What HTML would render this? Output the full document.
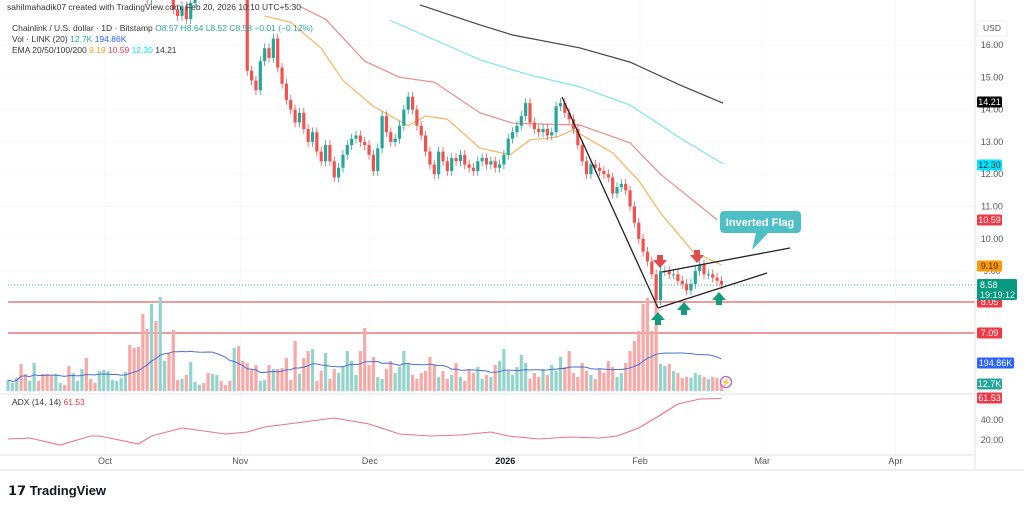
<!DOCTYPE html>
<html><head><meta charset="utf-8"><style>
body{margin:0;background:#fff;width:1024px;height:509px;overflow:hidden;font-family:"Liberation Sans",sans-serif}
svg{display:block}
</style></head><body>
<svg id="c" width="1024" height="509" viewBox="0 0 1024 509">
<defs><clipPath id="pc"><rect x="0" y="0" width="975" height="392"/></clipPath></defs>
<rect x="0" y="0" width="1024" height="509" fill="#fff"/>
<g id="grid"></g>
<line x1="8" y1="302" x2="975" y2="302" stroke="#e06060" stroke-width="1.3"/>
<line x1="8" y1="333" x2="975" y2="333" stroke="#e06060" stroke-width="1.3"/>
<line x1="8" y1="285" x2="975" y2="285" stroke="#26a69a" stroke-width="1" stroke-dasharray="1,2"/>
<g id="vol"></g>
<g id="ema" clip-path="url(#pc)"></g>
<g id="candles" clip-path="url(#pc)"></g>
<g id="adx"></g>
<line x1="0" y1="394" x2="975" y2="394" stroke="#e0e3eb"/>
<line x1="0" y1="455" x2="975" y2="455" stroke="#e0e3eb"/>
<line x1="975" y1="0" x2="975" y2="470" stroke="#e0e3eb"/>
<line x1="0" y1="470" x2="1024" y2="470" stroke="#e0e3eb"/>
<line x1="562" y1="97" x2="658" y2="308" stroke="#222" stroke-width="1.3"/>
<line x1="662" y1="272" x2="790" y2="248" stroke="#222" stroke-width="1.3"/>
<line x1="658" y1="308" x2="767" y2="273" stroke="#222" stroke-width="1.3"/>
<g id="arrows"></g>
<g>
<path d="M724 211 H797 a4 4 0 0 1 4 4 V229 a4 4 0 0 1 -4 4 H768 L752 250 L756 233 H724 a4 4 0 0 1 -4 -4 V215 a4 4 0 0 1 4 -4Z" fill="#4fbfc6"/>
<text x="760" y="226" text-anchor="middle" font-size="11" font-weight="bold" fill="#fff">Inverted Flag</text>
</g>
<circle cx="726" cy="382" r="5.5" fill="#fff" stroke="#c060d0" stroke-width="1.3"/>
<text x="726" y="385" text-anchor="middle" font-size="8" fill="#c060d0">⚡</text>
<g id="axis" font-size="9" fill="#555"></g>
<g id="tags" font-size="9"></g>
<g id="dates" font-size="9" fill="#555"></g>
<rect x="977" y="21" width="30" height="15" fill="#fff" stroke="#eee"/>
<text x="992" y="31" text-anchor="middle" font-size="8.5" fill="#555">USD</text>
<text x="7" y="10" font-size="8.5" fill="#333">sahilmahadik07 created with TradingView.com, Feb 20, 2026 10:10 UTC+5:30</text>
<g font-size="8.5">
<text x="12" y="31" fill="#333">Chainlink / U.S. dollar · 1D · Bitstamp <tspan fill="#26a69a">O8.57 H8.64 L8.52 C8.58 −0.01 (−0.12%)</tspan></text>
<text x="12" y="42" fill="#333">Vol · LINK (20) <tspan fill="#26a69a">12.7K</tspan> <tspan fill="#2962ff">194.86K</tspan></text>
<text x="12" y="53" fill="#333">EMA 20/50/100/200 <tspan fill="#f7a21b">9.19</tspan> <tspan fill="#f23645">10.59</tspan> <tspan fill="#00e5ff">12.30</tspan> 14.21</text>
<text x="12" y="405" fill="#333">ADX (14, 14) <tspan fill="#f23645">61.53</tspan></text>
</g>
<g>
<text x="8" y="495" font-size="13" font-weight="bold" fill="#131722">𝟭𝟳 TradingView</text>
</g>
</svg>
<script>
const closes=[19.5,19.8,20.2,20.0,19.6,19.9,20.5,20.1,19.7,19.4,19.0,19.3,19.6,19.2,18.9,19.5,19.8,20.1,19.7,19.2,19.0,19.3,19.9,20.6,21.0,21.4,21.8,22.3,22.0,21.5,21.0,
18.0,17.4,17.8,17.6,17.9,18.3,17.7,17.1,16.9,17.2,16.8,17.3,17.9,18.4,18.0,17.6,18.2,18.8,18.5,18.1,17.8,18.3,17.9,17.6,
15.2,14.9,14.6,15.5,15.9,15.6,16.2,15.3,14.8,14.3,14.0,13.6,13.9,13.4,13.0,13.3,12.7,12.4,12.9,12.4,
11.9,12.2,12.6,12.9,13.1,13.2,13.0,12.9,12.6,12.1,12.8,13.8,13.3,13.0,13.1,13.5,14.0,14.4,14.0,13.5,
13.2,12.7,12.3,12.0,12.7,12.4,12.1,12.5,12.4,12.6,12.3,12.2,12.1,12.4,12.5,12.3,12.4,12.2,12.3,12.6,
13.1,13.3,13.5,13.8,14.2,13.6,13.4,13.3,13.4,13.2,13.3,14.1,14.2,13.9,13.7,13.4,12.9,12.4,12.0,12.3,
12.2,12.1,12.0,11.9,11.4,11.6,11.7,11.5,11.0,10.5,10.0,9.6,9.3,8.9,8.1,9.0,9.0,8.9,8.9,8.7,
8.6,8.4,8.6,9.0,9.2,8.9,8.9,8.8,8.7,8.58];
const volumes=[11,8,13,27,17,10,28,10,17,17,16,17,8,6,25,18,10,22,33,12,8,20,21,20,11,10,13,19,46,43,44,
77,62,87,70,94,30,38,61,11,12,16,29,9,6,8,18,17,16,10,6,10,43,45,30,28,21,26,10,11,26,
22,22,23,33,11,50,17,33,40,42,10,20,38,12,22,18,25,40,30,16,40,63,26,34,14,12,22,30,18,24,
40,28,16,12,18,20,34,26,14,20,12,16,28,14,10,22,18,24,12,16,14,26,30,42,20,16,24,36,28,12,
18,14,22,16,26,20,34,24,40,18,14,28,20,16,12,22,18,30,24,14,18,28,40,50,60,87,93,60,87,27,
25,27,20,18,13,14,13,18,16,14,12,14,13,11];
const ema20Days=[59,65,72,77,84,92,96,101,108.5,115.4,120,126.2,129.9,139,145,150,157.5,164];
const ema20Vals=[16.9,16.7,15.9,14.9,14.1,13.5,13.8,13.7,12.81,12.6,13.06,13.15,13.37,12.66,11.8,10.8,9.6,9.19];
const ema50Days=[67,73,82,90,98,108.5,116,131.5,143,150,156,163];
const ema50Vals=[17.2,16.8,15.5,15.0,14.85,13.9,13.58,13.52,12.97,12.0,11.35,10.59];
const ema100Days=[87.8,108.5,120,131.5,143,154.5,164.4];
const ema100Vals=[16.77,15.54,15.07,14.70,14.14,13.12,12.32];
const ema200Days=[94.7,108.5,116,131.5,143,154.5,164.4];
const ema200Vals=[17.24,16.62,16.31,15.91,15.47,14.76,14.2];
const adxDays=[0,5,12,19,21,30,33,40,50,55,59,75,83,90,97,104,111,115,122,129,136,140,145,150,154,159,164];
const adxVals=[21,22,15,24,24,16,24,32,26,28,33,42,36,26,24,25,28,24,21,23,22,24,32,45,56,61,61.5];
const priceTicks=[16,15,14,13,12,11,10,9];
const adxTicks=[40,20];
const months=[{l:"Oct",d:22.3},{l:"Nov",d:53.4},{l:"Dec",d:83.2},{l:"2026",d:114.3,b:1},{l:"Feb",d:145.3},{l:"Mar",d:173.4},{l:"Apr",d:204}];
const NS="http://www.w3.org/2000/svg";
const X=i=>8+i*4.35, Y=p=>45+(16-p)*32.3, VY=v=>391-v, AY=a=>420-(a-40);
function mk(t,a,p){const e=document.createElementNS(NS,t);for(const k in a)e.setAttribute(k,a[k]);p.appendChild(e);return e;}
const grid=document.getElementById('grid');
priceTicks.forEach(p=>{const l=mk('line',{x1:0,x2:975,y1:Y(p),y2:Y(p),stroke:'#f6f7f9'},grid);

});
months.forEach(m=>{const l=mk('line',{x1:X(m.d),x2:X(m.d),y1:0,y2:470,stroke:'#f6f7f9'},grid);

});
const vol=document.getElementById('vol');
const opens=closes.map((c,i)=>i?closes[i-1]:c);
volumes.forEach((v,i)=>{const up=closes[i]>=opens[i];
const r=mk('rect',{x:X(i)-1.6,y:VY(v),width:3.2,height:v,fill:up?'#92d3cb':'#f6a9a6'},vol);

});
const ma=volumes.map((v,i)=>{const s=volumes.slice(Math.max(0,i-19),i+1);return s.reduce((a,b)=>a+b,0)/s.length;});
const vm=mk('polyline',{points:ma.map((v,i)=>X(i)+','+VY(v)).join(' '),fill:'none',stroke:'#4a6fd6','stroke-width':1},vol);


const ema=document.getElementById('ema');
[[ema20Days,ema20Vals,'#f5b35c','ema20-line'],[ema50Days,ema50Vals,'#e88a8a','ema50-line'],[ema100Days,ema100Vals,'#7fe3ee','ema100-line'],[ema200Days,ema200Vals,'#444','ema200-line']].forEach(([d,v,c,n])=>{
const l=mk('polyline',{points:d.map((di,k)=>X(di)+','+Y(v[k])).join(' '),fill:'none',stroke:c,'stroke-width':1.2},ema);

});
const cg=document.getElementById('candles');
closes.forEach((c,i)=>{const o=opens[i],up=c>=o,col=up?'#26a69a':'#ef5350';
const hi=Math.max(o,c)+0.15,lo=Math.min(o,c)-0.15;
mk('line',{x1:X(i),x2:X(i),y1:Y(hi),y2:Y(lo),stroke:col,'stroke-width':0.8},cg);
const r=mk('rect',{x:X(i)-1.6,y:Y(Math.max(o,c)),width:3.2,height:Math.max(1,Math.abs(o-c)*32.3),fill:col},cg);

});
const adx=document.getElementById('adx');
const al=mk('polyline',{points:adxDays.map((d,k)=>X(d)+','+AY(adxVals[k])).join(' '),fill:'none',stroke:'#e8738a','stroke-width':1.1},adx);


const ax=document.getElementById('axis');
priceTicks.forEach(p=>{const t=mk('text',{x:992,y:Y(p)+3,'text-anchor':'middle'},ax);t.textContent=p.toFixed(2);

});
adxTicks.forEach(a=>{const t=mk('text',{x:992,y:AY(a)+3,'text-anchor':'middle'},ax);t.textContent=a.toFixed(2);

});
const tg=document.getElementById('tags');
[['14.21',102,'#000','#fff'],['12.30',165,'#00e5ff','#333'],['10.59',220,'#f23645','#fff'],['9.19',266,'#ff9800','#333'],['8.05',302,'#f23645','#fff'],['7.09',333,'#f23645','#fff'],['194.86K',363,'#2962ff','#fff'],['12.7K',384,'#26a69a','#fff'],['61.53',398,'#f23645','#fff']].forEach(([s,y,bg,fg])=>{
const w=s.length>5?37:25;const r=mk('rect',{x:977,y:y-5.5,width:w,height:11,fill:bg,rx:1.5},tg);


const t=mk('text',{x:977+w/2,y:y+3.2,'text-anchor':'middle',fill:fg},tg);t.textContent=s;});
const lr=mk('rect',{x:977,y:279,width:40,height:21,fill:'#089981',rx:1.5},tg);


const t1=mk('text',{x:980,y:288,fill:'#fff'},tg);t1.textContent='8.58';
const t2=mk('text',{x:980,y:298,fill:'#e0f5f0'},tg);t2.textContent='19:19:12';
const dg=document.getElementById('dates');
months.forEach(m=>{const t=mk('text',{x:X(m.d),y:464,'text-anchor':'middle','font-weight':m.b?'bold':'normal',fill:m.b?'#131722':'#555'},dg);t.textContent=m.l;

});
const ar=document.getElementById('arrows');
[[660,262,1],[697,257,1],[658,318,0],[684,308,0],[719,298,0]].forEach(([x,y,down])=>{
const d=down?`M${x-3} ${y-7}h6v5h4l-7 8l-7 -8h4z`:`M${x-3} ${y+7}h6v-5h4l-7 -8l-7 8h4z`;
const p=mk('path',{d:d,fill:down?'#e04b4b':'#149c7c'},ar);

});
</script>
</body></html>
